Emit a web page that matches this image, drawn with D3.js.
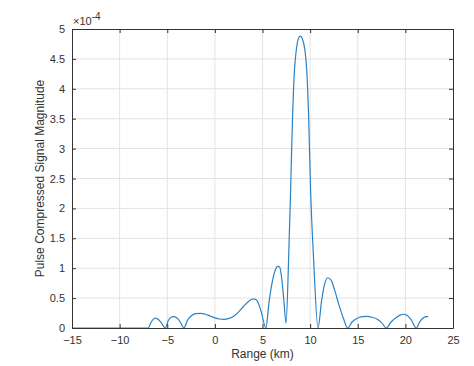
<!DOCTYPE html>
<html>
<head>
<meta charset="utf-8">
<script src="https://cdn.jsdelivr.net/npm/d3@7"></script>
<style>
  body { margin: 0; background: #fff; }
  svg { display: block; font-family: "Liberation Sans", Arial, sans-serif; }
</style>
</head>
<body>
<div id="chart"></div>
<script>
// Range axis (km) and magnitude (in units of 1e-4)
const rangeKm = [
  -15, -7.0, -6.75, -6.5, -6.25, -6.0, -5.6, -5.2,
  -4.9, -4.6, -4.35, -4.0, -3.6, -3.25,
  -2.9, -2.5, -2.0, -1.5, -1.0, -0.5, 0.0, 0.5, 0.9, 1.5, 2.0, 2.5, 3.0, 3.5, 4.0, 4.3, 4.6, 4.9, 5.35,
  5.7, 6.0, 6.3, 6.6, 6.8, 7.0, 7.25, 7.47,
  7.75, 7.95, 8.15, 8.35, 8.55, 8.75, 8.98, 9.2, 9.45, 9.65, 9.85, 10.05, 10.35, 10.83,
  11.2, 11.5, 11.85, 12.2, 12.6, 13.0, 13.5, 13.95,
  14.4, 14.9, 15.5, 16.0, 16.5, 17.0, 17.5, 18.0,
  18.5, 19.0, 19.5, 19.8, 20.2, 20.6, 21.15,
  21.5, 21.9, 22.2, 22.4
];
const magnitude = [
  0, 0, 0.08, 0.14, 0.165, 0.15, 0.08, 0,
  0.12, 0.18, 0.19, 0.17, 0.09, 0,
  0.12, 0.2, 0.24, 0.245, 0.23, 0.2, 0.17, 0.15, 0.145, 0.16, 0.2, 0.27, 0.36, 0.44, 0.485, 0.48, 0.4, 0.25, 0,
  0.45, 0.75, 0.95, 1.03, 1.02, 0.85, 0.45, 0.08,
  1.2, 2.3, 3.5, 4.3, 4.65, 4.83, 4.88, 4.83, 4.65, 4.3, 3.5, 2.3, 1.2, 0,
  0.45, 0.72, 0.84, 0.8, 0.62, 0.4, 0.16, 0,
  0.1, 0.16, 0.19, 0.195, 0.18, 0.15, 0.09, 0,
  0.1, 0.17, 0.22, 0.23, 0.21, 0.14, 0,
  0.1, 0.17, 0.19, 0.19
];
const xTicks = [-15, -10, -5, 0, 5, 10, 15, 20, 25];
const yTicks = [0, 0.5, 1, 1.5, 2, 2.5, 3, 3.5, 4, 4.5, 5];

const width = 474, height = 366;
const margin = { left: 72, right: 21, top: 29, bottom: 38 };
const plotW = width - margin.left - margin.right;
const plotH = height - margin.top - margin.bottom;

const svg = d3.select('#chart').append('svg')
  .attr('width', width)
  .attr('height', height);

const x = d3.scaleLinear().domain([-15, 25]).range([0, plotW]);
const y = d3.scaleLinear().domain([0, 5]).range([plotH, 0]);

const g = svg.append('g').attr('transform', `translate(${margin.left},${margin.top})`);

// grid lines
g.append('g').selectAll('line').data(xTicks.slice(1, -1)).join('line')
  .attr('x1', d => x(d)).attr('x2', d => x(d))
  .attr('y1', 0).attr('y2', plotH)
  .attr('stroke', '#e3e3e3').attr('stroke-width', 1);
g.append('g').selectAll('line').data(yTicks.slice(1, -1)).join('line')
  .attr('y1', d => y(d)).attr('y2', d => y(d))
  .attr('x1', 0).attr('x2', plotW)
  .attr('stroke', '#e3e3e3').attr('stroke-width', 1);

// signal
const points = rangeKm.map((r, i) => [r, magnitude[i]]);
const line = d3.line()
  .x(d => x(d[0]))
  .y(d => y(d[1]))
  .curve(d3.curveMonotoneX);
g.append('path')
  .datum(points)
  .attr('fill', 'none')
  .attr('stroke', '#2a82c6')
  .attr('stroke-width', 1.2)
  .attr('d', line);

// axes (ticks inward, MATLAB style)
const axisColor = '#333333';
const xAxis = g.append('g').attr('transform', `translate(0,${plotH})`)
  .call(d3.axisBottom(x).tickValues(xTicks).tickSizeInner(-4).tickSizeOuter(0).tickPadding(8));
const xTop = g.append('g')
  .call(d3.axisTop(x).tickValues(xTicks).tickSizeInner(-4).tickSizeOuter(0).tickFormat(''));
const yAxis = g.append('g')
  .call(d3.axisLeft(y).tickValues(yTicks).tickSizeInner(-4).tickSizeOuter(0).tickPadding(7).tickFormat(d3.format('')));
const yRight = g.append('g').attr('transform', `translate(${plotW},0)`)
  .call(d3.axisRight(y).tickValues(yTicks).tickSizeInner(-4).tickSizeOuter(0).tickFormat(''));

[xAxis, xTop, yAxis, yRight].forEach(a => {
  a.select('.domain').attr('stroke', axisColor).attr('stroke-width', 1);
  a.selectAll('.tick line').attr('stroke', axisColor);
  a.selectAll('.tick text').attr('fill', axisColor).style('font-size', '11px')
    .style('font-family', '"Liberation Sans", Arial, sans-serif');
});

// exponent label
const expo = svg.append('text')
  .attr('x', margin.left + 1)
  .attr('y', margin.top - 4)
  .attr('fill', axisColor)
  .style('font-size', '11px');
expo.append('tspan').text('\u00d710');
expo.append('tspan').attr('dy', -5).style('font-size', '10px').text('-4');

// axis labels
svg.append('text')
  .attr('x', margin.left + plotW / 2)
  .attr('y', height - 8)
  .attr('text-anchor', 'middle')
  .attr('fill', axisColor)
  .style('font-size', '12px')
  .text('Range (km)');

svg.append('text')
  .attr('transform', `translate(${44},${margin.top + plotH / 2}) rotate(-90)`)
  .attr('text-anchor', 'middle')
  .attr('fill', axisColor)
  .style('font-size', '12px')
  .text('Pulse Compressed Signal Magnitude');
</script>
</body>
</html>
